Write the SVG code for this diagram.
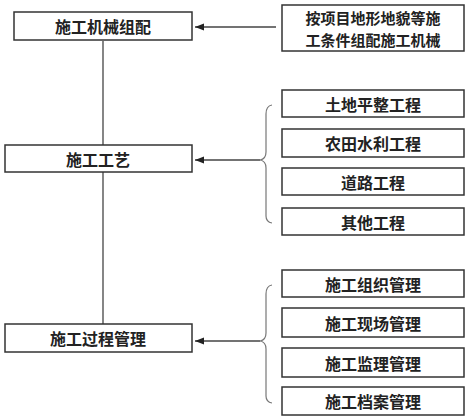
<svg xmlns="http://www.w3.org/2000/svg" width="474" height="420" viewBox="0 0 474 420">
<defs>
<style>
.box{fill:#fff;stroke:#333;stroke-width:1.5}
.t{font-family:"Noto Sans CJK SC","Liberation Sans",sans-serif;font-size:16px;font-weight:bold;fill:#222;text-anchor:middle;dominant-baseline:central}
.s{font-size:15px}
.ln{stroke:#444;stroke-width:1.3;fill:none}
.br{stroke:#777;stroke-width:1.2;fill:none}
</style>
<marker id="ah" viewBox="0 0 10 10" refX="10" refY="5" markerWidth="9" markerHeight="9" markerUnits="userSpaceOnUse" orient="auto">
<path d="M0,1 L10,5 L0,9 Z" fill="#222"/>
</marker>
</defs>
<rect width="474" height="420" fill="#fff"/>
<g id="connectors">
<line class="ln" x1="103" y1="41" x2="103" y2="145"/>
<line class="ln" x1="103" y1="172" x2="103" y2="324"/>
<line class="ln" x1="276" y1="27" x2="195" y2="27" marker-end="url(#ah)"/>
<line class="ln" x1="260" y1="160" x2="195" y2="160" marker-end="url(#ah)"/>
<line class="ln" x1="260" y1="341" x2="195" y2="341" marker-end="url(#ah)"/>
<path class="br" d="M272,105 Q266,106 266,114 L266,152 Q266,159 260,160 Q266,161 266,168 L266,216 Q266,222 272,223"/>
<path class="br" d="M272,285 Q266,286 266,294 L266,333 Q266,340 260,341 Q266,342 266,349 L266,396 Q266,402 272,403"/>
</g>
<g id="n-jixie"><rect class="box" x="14" y="12" width="178" height="28"/><text class="t" x="103" y="26">施工机械组配</text></g>
<g id="n-an"><rect class="box" x="282" y="5" width="182" height="46"/><text class="t s" x="373" y="17">按项目地形地貌等施</text><text class="t s" x="373" y="39">工条件组配施工机械</text></g>
<g id="n-gongyi"><rect class="box" x="5" y="145" width="187" height="27"/><text class="t" x="98" y="158.5">施工工艺</text></g>
<g id="n-guocheng"><rect class="box" x="5" y="324" width="187" height="28"/><text class="t" x="98" y="338">施工过程管理</text></g>
<g id="n-tudi"><rect class="box" x="282" y="90" width="182" height="27"/><text class="t" x="373" y="103.5">土地平整工程</text></g>
<g id="n-nongtian"><rect class="box" x="282" y="129" width="182" height="28"/><text class="t" x="373" y="143">农田水利工程</text></g>
<g id="n-daolu"><rect class="box" x="282" y="168" width="182" height="27"/><text class="t" x="373" y="181.5">道路工程</text></g>
<g id="n-qita"><rect class="box" x="282" y="208" width="182" height="27"/><text class="t" x="373" y="221.5">其他工程</text></g>
<g id="n-zuzhi"><rect class="box" x="282" y="270" width="182" height="27"/><text class="t" x="373" y="283.5">施工组织管理</text></g>
<g id="n-xianchang"><rect class="box" x="282" y="308" width="182" height="29"/><text class="t" x="373" y="322.5">施工现场管理</text></g>
<g id="n-jianli"><rect class="box" x="282" y="348" width="182" height="29"/><text class="t" x="373" y="362.5">施工监理管理</text></g>
<g id="n-dangan"><rect class="box" x="282" y="387" width="182" height="28"/><text class="t" x="373" y="401">施工档案管理</text></g>
</svg>
